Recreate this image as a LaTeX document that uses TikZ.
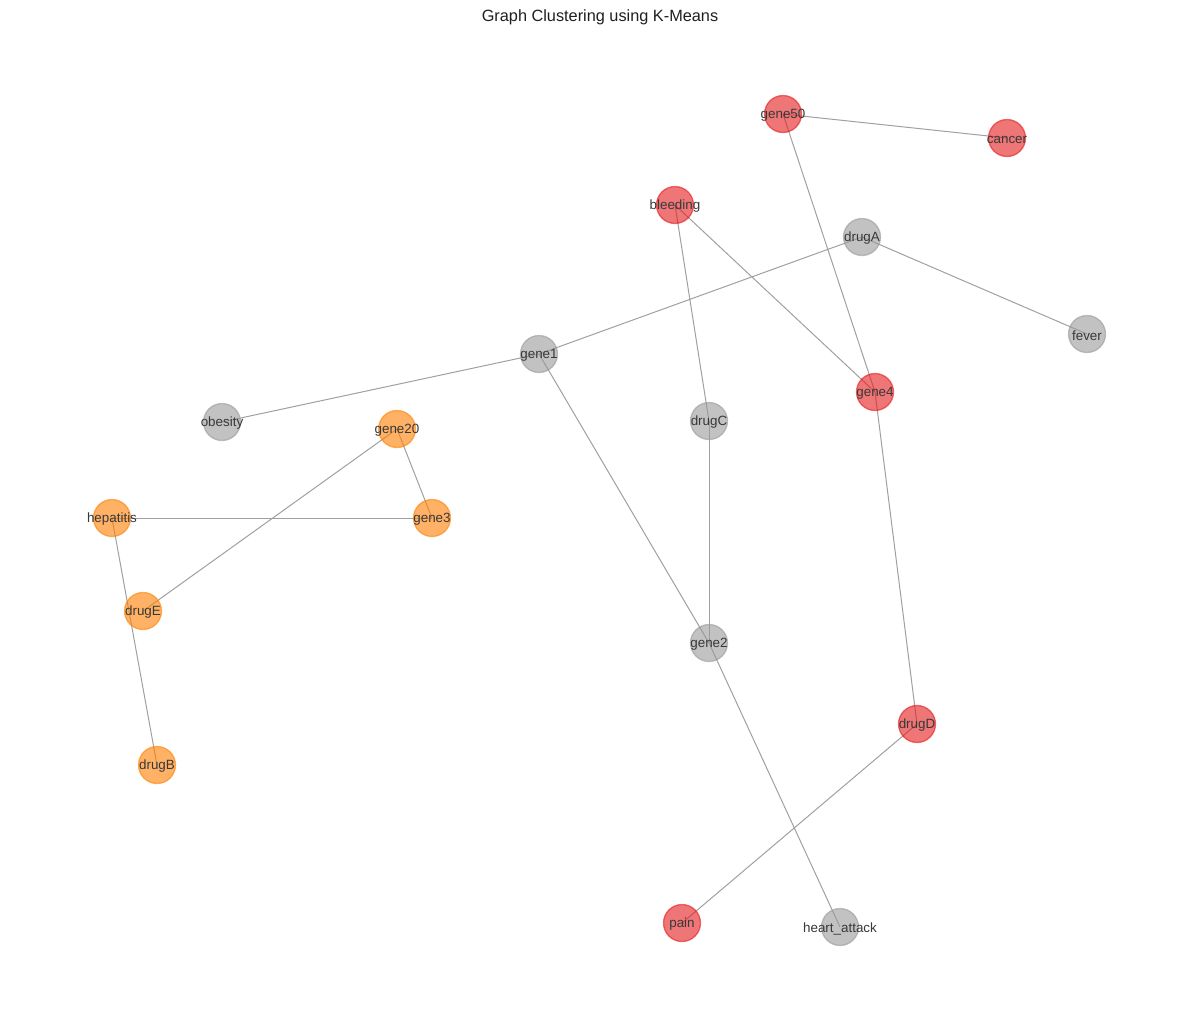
\documentclass[tikz,border=0pt]{standalone}
\usepackage{fontspec}
\setmainfont{Liberation Sans}
\usetikzlibrary{backgrounds}
\definecolor{cred}{HTML}{E41A1C}
\definecolor{corange}{HTML}{FF7F00}
\definecolor{cgray}{HTML}{999999}
\definecolor{edgegray}{RGB}{160,160,160}
\tikzset{
  vtx/.style={circle, minimum size=37pt, inner sep=0pt, line width=1.3pt,
    fill opacity=0.6, draw opacity=0.6,
    label={[text opacity=1, text=black!78, inner sep=0pt, yshift=-1.5pt,
      font=\fontsize{13.4}{14}\selectfont]center:#1}},
  redv/.style={vtx=#1, draw=cred, fill=cred},
  orangev/.style={vtx=#1, draw=corange, fill=corange},
  grayv/.style={vtx=#1, draw=cgray, fill=cgray},
  link/.style={draw=edgegray, line width=1pt}
}
\begin{document}
\begin{tikzpicture}[x=1pt,y=-1pt]
\useasboundingbox (0,0) rectangle (1200,1023);
\node[font=\fontsize{16.3}{18}\selectfont, text=black!88] (title) at (600,17) {Graph Clustering using K-Means};
% nodes
\node[redv=gene50] (gene50) at (783,114) {};
\node[redv=cancer] (cancer) at (1007,138) {};
\node[redv=bleeding] (bleeding) at (675,205) {};
\node[grayv=drugA] (drugA) at (862,237) {};
\node[grayv=fever] (fever) at (1087,334) {};
\node[grayv=gene1] (gene1) at (539,354) {};
\node[redv=gene4] (gene4) at (875,392) {};
\node[grayv=obesity] (obesity) at (222,422) {};
\node[grayv=drugC] (drugC) at (709,421) {};
\node[orangev=gene20] (gene20) at (397,429) {};
\node[orangev=hepatitis] (hepatitis) at (112,518) {};
\node[orangev=gene3] (gene3) at (432,518) {};
\node[orangev=drugE] (drugE) at (143,611) {};
\node[grayv=gene2] (gene2) at (709,643) {};
\node[redv=drugD] (drugD) at (917,724) {};
\node[orangev=drugB] (drugB) at (157,765) {};
\node[redv=pain] (pain) at (682,923) {};
\node[grayv=heart\_attack] (heart) at (840,927) {};
% edges
\begin{pgfonlayer}{background}
\draw[link] (gene50.center) -- (cancer.center);
\draw[link] (gene50.center) -- (gene4.center);
\draw[link] (bleeding.center) -- (drugC.center);
\draw[link] (bleeding.center) -- (gene4.center);
\draw[link] (drugA.center) -- (gene1.center);
\draw[link] (drugA.center) -- (fever.center);
\draw[link] (gene1.center) -- (obesity.center);
\draw[link] (gene1.center) -- (gene2.center);
\draw[link] (drugC.center) -- (gene2.center);
\draw[link] (gene4.center) -- (drugD.center);
\draw[link] (gene20.center) -- (gene3.center);
\draw[link] (gene20.center) -- (drugE.center);
\draw[link] (hepatitis.center) -- (gene3.center);
\draw[link] (hepatitis.center) -- (drugB.center);
\draw[link] (gene2.center) -- (heart.center);
\draw[link] (drugD.center) -- (pain.center);
\end{pgfonlayer}
\end{tikzpicture}
\end{document}
